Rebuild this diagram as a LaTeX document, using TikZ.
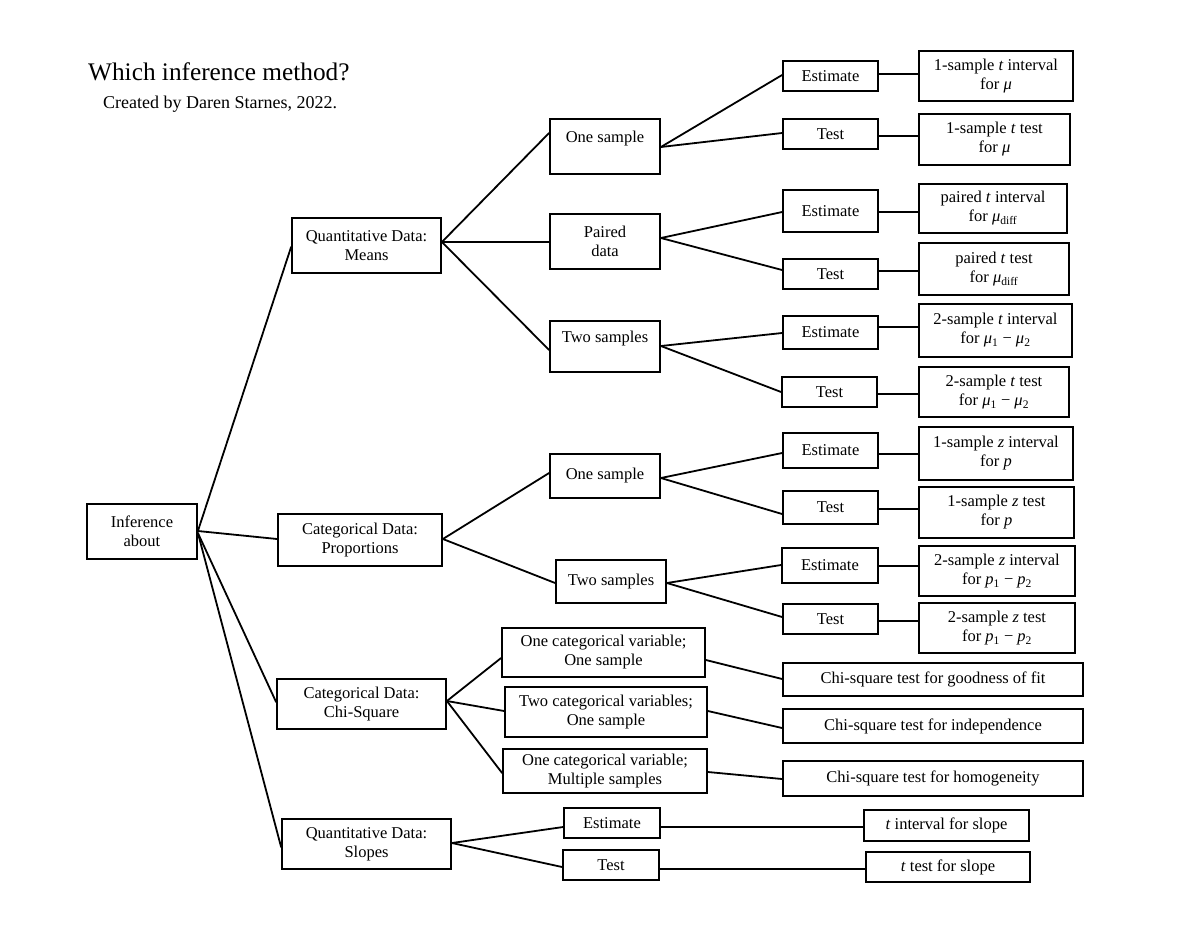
\documentclass[tikz,border=0pt]{standalone}
\usepackage{fontspec}
\setmainfont{Liberation Serif}
\newcommand{\myit}[1]{\textit{#1}}
\newcommand{\mysb}[1]{\textsubscript{#1}}
\begin{document}
\begin{tikzpicture}[x=1pt,y=-1pt,
  box/.style={draw, line width=1.8pt, inner sep=0pt, align=center, font=\fontsize{16.5}{19}\selectfont},
  bx/.style 2 args={box, minimum width=#1pt, minimum height=#2pt},
  conn/.style={line width=1.8pt, line cap=round}]
\useasboundingbox (0,0) rectangle (1200,927);

% title
\node[anchor=base west, inner sep=0pt, font=\fontsize{25.3}{30}\selectfont] (title) at (88,80) {Which inference method?};
\node[anchor=base west, inner sep=0pt, font=\fontsize{18}{21}\selectfont] (sub) at (103,108) {Created by Daren Starnes, 2022.};

% level 0
\node[bx={110}{55}] (root) at (142,531.5) {Inference\\about};

% level 1
\node[bx={149}{55}] (qm) at (366.5,245.5) {Quantitative Data:\\Means};
\node[bx={164}{52}] (cp) at (360,540) {Categorical Data:\\Proportions};
\node[bx={169}{50}] (cs) at (361.5,704) {Categorical Data:\\Chi-Square};
\node[bx={169}{50}] (qs) at (366.5,844) {Quantitative Data:\\Slopes};

% means
\node[bx={110}{55}] (m1) at (605,146.5) {One sample\\\phantom{x}};
\node[bx={110}{55}] (m2) at (605,241.5) {Paired\\data};
\node[bx={110}{51}] (m3) at (605,346.5) {Two samples\\\phantom{x}};

\node[bx={95}{30}] (me1) at (830.5,76) {Estimate};
\node[bx={95}{30}] (mt1) at (830.5,134) {Test};
\node[bx={95}{42}] (me2) at (830.5,211) {Estimate};
\node[bx={95}{30}] (mt2) at (830.5,274) {Test};
\node[bx={95}{33}] (me3) at (830.5,332.5) {Estimate};
\node[bx={95}{30}] (mt3) at (829.5,392) {Test};

\node[bx={154}{50}] (r1) at (996,76) {1-sample \myit{t} interval\\for \myit{μ}};
\node[bx={151}{51}] (r2) at (994.5,139.5) {1-sample \myit{t} test\\for \myit{μ}};
\node[bx={148}{49}] (r3) at (993,208.5) {paired \myit{t} interval\\for \myit{μ}\mysb{diff}};
\node[bx={150}{52}] (r4) at (994,269) {paired \myit{t} test\\for \myit{μ}\mysb{diff}};
\node[bx={153}{53}] (r5) at (995.5,330.5) {2-sample \myit{t} interval\\for \myit{μ}\mysb{1} − \myit{μ}\mysb{2}};
\node[bx={150}{50}] (r6) at (994,392) {2-sample \myit{t} test\\for \myit{μ}\mysb{1} − \myit{μ}\mysb{2}};

% proportions
\node[bx={110}{44}] (p1) at (605,476) {One sample};
\node[bx={110}{43}] (p2) at (611,581.5) {Two samples};

\node[bx={95}{35}] (pe1) at (830.5,450.5) {Estimate};
\node[bx={95}{33}] (pt1) at (830.5,507.5) {Test};
\node[bx={96}{35}] (pe2) at (830,565.5) {Estimate};
\node[bx={95}{30}] (pt2) at (830.5,619) {Test};

\node[bx={154}{53}] (r7) at (996,453.5) {1-sample \myit{z} interval\\for \myit{p}};
\node[bx={155}{51}] (r8) at (996.5,512.5) {1-sample \myit{z} test\\for \myit{p}};
\node[bx={156}{50}] (r9) at (997,571) {2-sample \myit{z} interval\\for \myit{p}\mysb{1} − \myit{p}\mysb{2}};
\node[bx={156}{50}] (r10) at (997,628) {2-sample \myit{z} test\\for \myit{p}\mysb{1} − \myit{p}\mysb{2}};

% chi-square
\node[bx={203}{49}] (c1) at (603.5,652.5) {One categorical variable;\\One sample};
\node[bx={202}{50}] (c2) at (606,712) {Two categorical variables;\\One sample};
\node[bx={204}{44}] (c3) at (605,771) {One categorical variable;\\Multiple samples};

\node[bx={300}{33}] (cr1) at (933,679.5) {Chi-square test for goodness of fit};
\node[bx={300}{34}] (cr2) at (933,726) {Chi-square test for independence};
\node[bx={300}{35}] (cr3) at (933,778.5) {Chi-square test for homogeneity};

% slopes
\node[bx={96}{30}] (se) at (612,823) {Estimate};
\node[bx={96}{30}] (st) at (611,865) {Test};
\node[bx={165}{31}] (sr1) at (946.5,825.5) {\myit{t} interval for slope};
\node[bx={164}{30}] (sr2) at (948,867) {\myit{t} test for slope};

% connectors level 0 -> 1
\draw[conn] (root.east |- 0,531) -- (qm.west |- 0,247);
\draw[conn] (root.east |- 0,531) -- (cp.west |- 0,539);
\draw[conn] (root.east |- 0,533) -- (cs.west |- 0,702);
\draw[conn] (root.east |- 0,533) -- (qs.west |- 0,847);

% means
\draw[conn] (qm.east |- 0,242) -- (m1.west |- 0,133);
\draw[conn] (qm.east |- 0,242) -- (m2.west |- 0,242);
\draw[conn] (qm.east |- 0,242) -- (m3.west |- 0,350);
\draw[conn] (m1.east |- 0,147) -- (me1.west |- 0,75);
\draw[conn] (m1.east |- 0,147) -- (mt1.west |- 0,133);
\draw[conn] (m2.east |- 0,238) -- (me2.west |- 0,212);
\draw[conn] (m2.east |- 0,238) -- (mt2.west |- 0,270);
\draw[conn] (m3.east |- 0,346) -- (me3.west |- 0,333);
\draw[conn] (m3.east |- 0,346) -- (mt3.west |- 0,392);
\draw[conn] (me1.east |- 0,74) -- (r1.west |- 0,74);
\draw[conn] (mt1.east |- 0,136) -- (r2.west |- 0,136);
\draw[conn] (me2.east |- 0,212) -- (r3.west |- 0,212);
\draw[conn] (mt2.east |- 0,271) -- (r4.west |- 0,271);
\draw[conn] (me3.east |- 0,327) -- (r5.west |- 0,327);
\draw[conn] (mt3.east |- 0,394) -- (r6.west |- 0,394);

% proportions
\draw[conn] (cp.east |- 0,539) -- (p1.west |- 0,473);
\draw[conn] (cp.east |- 0,539) -- (p2.west |- 0,583);
\draw[conn] (p1.east |- 0,478) -- (pe1.west |- 0,453);
\draw[conn] (p1.east |- 0,478) -- (pt1.west |- 0,514);
\draw[conn] (p2.east |- 0,583) -- (pe2.west |- 0,565);
\draw[conn] (p2.east |- 0,583) -- (pt2.west |- 0,617);
\draw[conn] (pe1.east |- 0,454) -- (r7.west |- 0,454);
\draw[conn] (pt1.east |- 0,509) -- (r8.west |- 0,509);
\draw[conn] (pe2.east |- 0,566) -- (r9.west |- 0,566);
\draw[conn] (pt2.east |- 0,621) -- (r10.west |- 0,621);

% chi-square
\draw[conn] (cs.east |- 0,701) -- (c1.west |- 0,658);
\draw[conn] (cs.east |- 0,701) -- (c2.west |- 0,711);
\draw[conn] (cs.east |- 0,701) -- (c3.west |- 0,773);
\draw[conn] (c1.east |- 0,660) -- (cr1.west |- 0,679);
\draw[conn] (c2.east |- 0,711) -- (cr2.west |- 0,728);
\draw[conn] (c3.east |- 0,772) -- (cr3.west |- 0,779);

% slopes
\draw[conn] (qs.east |- 0,843) -- (se.west |- 0,827);
\draw[conn] (qs.east |- 0,843) -- (st.west |- 0,867);
\draw[conn] (se.east |- 0,827) -- (sr1.west |- 0,827);
\draw[conn] (st.east |- 0,869) -- (sr2.west |- 0,869);
\end{tikzpicture}
\end{document}
